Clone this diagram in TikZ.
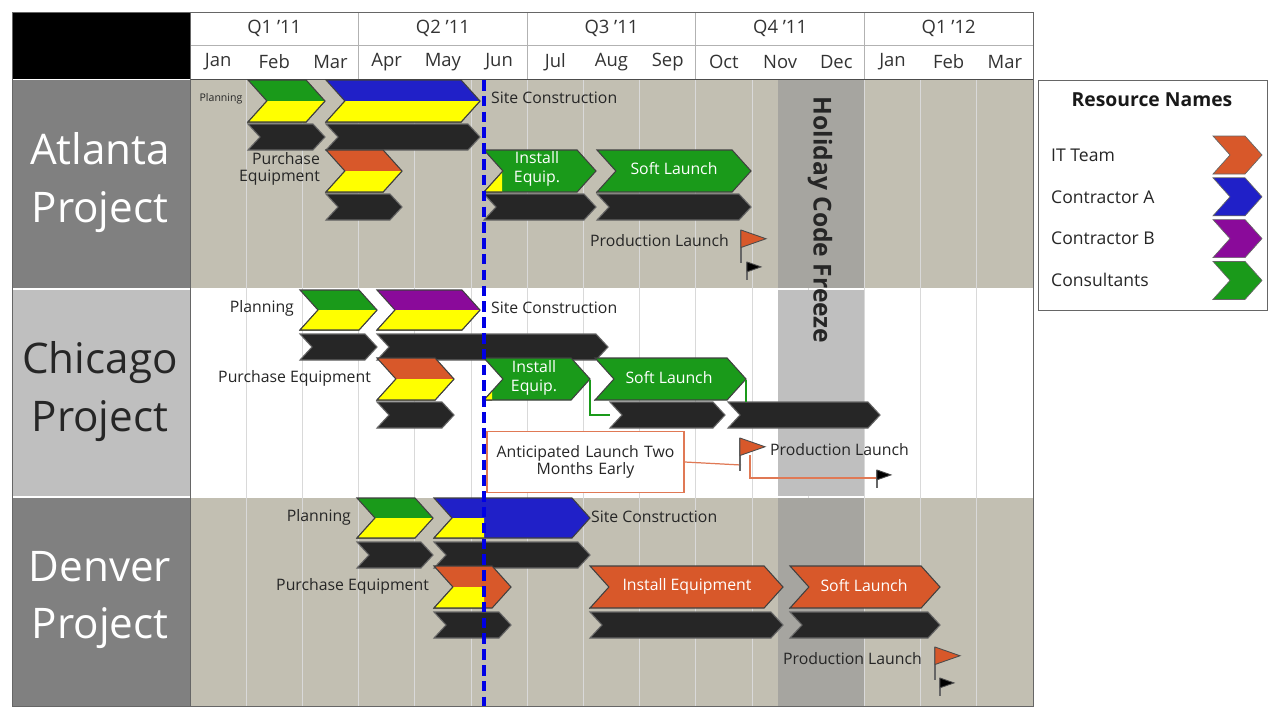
\documentclass[tikz,border=0pt]{standalone}
\usepackage{fontspec}
\setmainfont{Open Sans}
\usetikzlibrary{calc}
\definecolor{tanbg}{HTML}{C2BFB2}
\definecolor{freeze}{HTML}{A6A5A0}
\definecolor{itteam}{HTML}{D8582A}
\definecolor{conA}{HTML}{2020C8}
\definecolor{conB}{HTML}{8A0A9A}
\definecolor{consult}{HTML}{1A9A1A}
\definecolor{progr}{HTML}{FFFF00}
% task bar: left, right, top, height, colour, end of progress
\newcommand\gtask[6]{%
  \fill[#5, draw=black!75, line width=0.6pt] (#1,#3) -- (#2-0.45*#4,#3) -- (#2,#3+0.5*#4) -- (#2-0.45*#4,#3+#4) -- (#1,#3+#4) -- (#1+0.45*#4,#3+0.5*#4) -- cycle;
  \begin{scope}
    \clip (#1-1,#3+0.5*#4) rectangle (#6,#3+#4+1);
    \fill[progr, draw=black!75, line width=0.6pt] (#1,#3) -- (#2-0.45*#4,#3) -- (#2,#3+0.5*#4) -- (#2-0.45*#4,#3+#4) -- (#1,#3+#4) -- (#1+0.45*#4,#3+0.5*#4) -- cycle;
  \end{scope}}
% baseline bar
\newcommand\gbase[3]{%
  \fill[black!85, draw=black!60, line width=0.6pt] (#1,#3) -- (#2-12,#3) -- (#2,#3+13) -- (#2-12,#3+26) -- (#1,#3+26) -- (#1+12,#3+13) -- cycle;}
% flag: x, y, colour, size
\newcommand\gflag[4]{%
  \draw[black!60, line width=1.4pt] (#1,#2) -- (#1,#2+1.3*#4);
  \fill[#3, draw=black!70, line width=0.5pt] (#1,#2) -- (#1+#4,#2+0.35*#4) -- (#1,#2+0.7*#4) -- cycle;}
\begin{document}
\begin{tikzpicture}[x=0.02cm, y=-0.02cm,
    tasklbl/.style={font=\fontsize{9}{10}\selectfont, text=black!85, inner sep=1pt},
    barlbl/.style={font=\fontsize{9}{10.5}\selectfont, text=white, align=center, inner sep=0pt},
    hdr/.style={font=\fontsize{10.5}{12}\selectfont, text=black!80},
    proj/.style={font=\fontsize{24}{33}\selectfont, align=center},
    ]
\useasboundingbox (0,0) rectangle (1280,720);
\fill[white] (0,0) rectangle (1280,720);

% header
\fill[black] (12,12) rectangle (190,79);
\draw[black!70] (190,12) rectangle (1033,79);
\draw[black!30] (190,45) -- (1033,45);
\foreach \q [count=\i from 0] in {Q1 '11,Q2 '11,Q3 '11,Q4 '11,Q1 '12}{
  \node[hdr] (q\i) at (274.3+168.6*\i,28) {\q};
  \draw[black!30] (358.6+168.6*\i,12) -- (358.6+168.6*\i,79);
}
\foreach \m [count=\i from 0] in {Jan,Feb,Mar,Apr,May,Jun,Jul,Aug,Sep,Oct,Nov,Dec,Jan,Feb,Mar}
  \node[hdr] (m\i) at (218.1+56.2*\i,62) {\m};

% row backgrounds
\fill[black!50] (12,80) rectangle (190,288);
\fill[black!25] (12,290) rectangle (190,496);
\fill[black!50] (12,498) rectangle (190,706);
\fill[tanbg] (190,80) rectangle (1033,288);
\fill[white] (190,290) rectangle (1033,496);
\fill[tanbg] (190,498) rectangle (1033,706);
\foreach \i in {1,...,14}
  \draw[white!85!black, line width=0.5pt] (190+56.2*\i,80) -- (190+56.2*\i,706);
\fill[freeze] (778,80) rectangle (864,288);
\fill[black!25] (778,290) rectangle (864,496);
\fill[freeze] (778,498) rectangle (864,706);
\draw[black!60] (12,12) rectangle (1033,706);
\draw[black!60] (190,12) -- (190,706);

\node[proj, text=white] (atl) at (100,183) {Atlanta\\Project};
\node[proj, text=black!85] (chi) at (100,392) {Chicago\\Project};
\node[proj, text=white] (den) at (100,600) {Denver\\Project};
\node[rotate=-90, font=\fontsize{14}{16}\selectfont\bfseries, text=black!85] (hcf) at (820,220) {Holiday Code Freeze};

% Atlanta
\gtask{248}{325}{80}{42}{consult}{325}   \gbase{248}{325}{124}
\gtask{326}{480}{80}{42}{conA}{480}      \gbase{326}{480}{124}
\gtask{326}{402}{150}{42}{itteam}{402}   \gbase{326}{402}{194}
\gtask{484}{596}{150}{42}{consult}{502}  \gbase{484}{596}{194}
\gtask{597}{751}{150}{42}{consult}{597}  \gbase{597}{751}{194}
\node[tasklbl, font=\fontsize{6}{7}\selectfont] (aplan) at (221,99) {Planning};
\node[tasklbl, anchor=west] (asite) at (489,98) {Site Construction};
\node[tasklbl, align=right, anchor=east] (apur) at (322,169) {Purchase\\Equipment};
\node[barlbl] (ainst) at (537,169) {Install\\Equip.};
\node[barlbl] (asoft) at (674,169) {Soft Launch};
\node[tasklbl, anchor=west] (aprod) at (588,241) {Production Launch};
\gflag{741}{230}{itteam}{25}
\gflag{747}{262}{black}{14}

% Chicago
\gtask{300}{377}{290}{40}{consult}{377}  \gbase{300}{377}{334}
\gtask{377}{480}{290}{40}{conB}{480}     \gbase{377}{608}{334}
\gtask{377}{454}{358}{42}{itteam}{454}   \gbase{377}{454}{402}
\gtask{484}{590}{358}{42}{consult}{492}
\gtask{595}{746}{358}{42}{consult}{595}
\gbase{610}{725}{402} \gbase{728}{880}{402}
\coordinate (ci) at (590,380);
\coordinate (cs) at (746,380);
\draw[consult, line width=0.7pt] (ci) |- (610,415);
\draw[consult, line width=0.7pt] (cs) -- (746,402);
\node[tasklbl, anchor=east] (cplan) at (296,308) {Planning};
\node[tasklbl, anchor=west] (csite) at (489,308) {Site Construction};
\node[tasklbl, anchor=east] (cpur) at (373,378) {Purchase Equipment};
\node[barlbl] (cinst) at (534,378) {Install\\Equip.};
\node[barlbl] (csoft) at (669,378) {Soft Launch};
\node[draw=itteam!80, fill=white, line width=0.8pt, tasklbl, align=center, minimum width=3.94cm, text width=3.7cm, minimum height=1.22cm, inner sep=1pt] (call) at (585.5,462) {Anticipated Launch Two\\Months Early};
\coordinate (cf) at (741,465);
\draw[itteam!80, line width=0.7pt] (call.east) -- (cf);
\draw[itteam!80, line width=0.7pt] (750,455) |- (880,478);
\gflag{740}{438}{itteam}{25}
\gflag{877}{470}{black}{14}
\node[tasklbl, anchor=west] (cprod) at (768,450) {Production Launch};

% Denver
\gtask{357}{433}{498}{40}{consult}{433}  \gbase{357}{433}{542}
\gtask{434}{590}{498}{40}{conA}{484}     \gbase{434}{590}{542}
\gtask{434}{511}{566}{42}{itteam}{484}   \gbase{434}{511}{612}
\gtask{590}{783}{566}{42}{itteam}{590}   \gbase{590}{783}{612}
\gtask{790}{940}{566}{42}{itteam}{790}   \gbase{790}{940}{612}
\node[tasklbl, anchor=east] (dplan) at (353,517) {Planning};
\node[tasklbl, anchor=west] (dsite) at (589,517) {Site Construction};
\node[tasklbl, anchor=east] (dpur) at (431,586) {Purchase Equipment};
\node[barlbl] (dinst) at (687,586) {Install Equipment};
\node[barlbl] (dsoft) at (864,586) {Soft Launch};
\node[tasklbl, anchor=west] (dprod) at (781,659) {Production Launch};
\gflag{935}{647}{itteam}{25}
\gflag{940}{678}{black}{14}

% today line
\draw[blue!90!black, line width=2.2pt, dash pattern=on 6pt off 3pt] (484,80) -- (484,706);

% legend
\draw[black!60, fill=white] (1038,80) rectangle (1267,310);
\node[font=\fontsize{11}{13}\selectfont\bfseries, text=black!90] (lt) at (1152,100) {Resource Names};
\foreach \nm/\col [count=\i from 0] in {IT Team/itteam, Contractor A/conA, Contractor B/conB, Consultants/consult}{
  \node[font=\fontsize{10}{12}\selectfont, text=black!85, anchor=west] (l\i) at (1045,155+41.8*\i) {\nm};
  \fill[\col, draw=black!60] (1213,136+41.8*\i) -- (1245,136+41.8*\i) -- (1262,155+41.8*\i) -- (1245,174+41.8*\i) -- (1213,174+41.8*\i) -- (1230,155+41.8*\i) -- cycle;
}
\end{tikzpicture}
\end{document}
